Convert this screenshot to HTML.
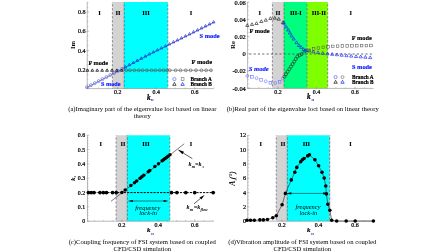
<!DOCTYPE html>
<html><head><meta charset="utf-8"><style>
html,body{margin:0;padding:0;background:#fff;width:448px;height:252px;overflow:hidden}
svg{display:block}
text{font-family:'Liberation Serif', 'Times New Roman', serif}
</style></head><body>
<svg width="448" height="252" viewBox="0 0 448 252">
<rect x="0" y="0" width="448" height="252" fill="#fff"/>
<rect x="112.40" y="2.00" width="11.30" height="86.60" fill="#D3D3D3"/>
<rect x="123.70" y="2.00" width="44.10" height="86.60" fill="#00FFFF"/>
<line x1="112.40" y1="2.00" x2="112.40" y2="88.60" stroke="#666" stroke-width="0.75" stroke-dasharray="2.2,1.8" stroke-dashoffset="1.8"/>
<line x1="123.40" y1="2.00" x2="123.40" y2="88.60" stroke="#F0A8A8" stroke-width="0.8"/>
<line x1="124.40" y1="2.00" x2="124.40" y2="88.60" stroke="#2a8a8a" stroke-width="0.75" stroke-dasharray="2.2,1.8" stroke-dashoffset="1.8"/>
<line x1="167.80" y1="2.00" x2="167.80" y2="88.60" stroke="#666" stroke-width="0.75" stroke-dasharray="2.2,1.8" stroke-dashoffset="1.8"/>
<line x1="87.25" y1="2.00" x2="87.25" y2="88.60" stroke="#8a8a8a" stroke-width="0.6"/>
<line x1="87.25" y1="88.60" x2="213.50" y2="88.60" stroke="#8a8a8a" stroke-width="0.6"/>
<line x1="87.25" y1="84.38" x2="88.35" y2="84.38" stroke="#8a8a8a" stroke-width="0.45"/>
<line x1="87.25" y1="79.55" x2="88.35" y2="79.55" stroke="#8a8a8a" stroke-width="0.45"/>
<line x1="87.25" y1="74.72" x2="88.35" y2="74.72" stroke="#8a8a8a" stroke-width="0.45"/>
<line x1="86.45" y1="69.90" x2="89.05" y2="69.90" stroke="#8a8a8a" stroke-width="0.5"/>
<line x1="87.25" y1="65.08" x2="88.35" y2="65.08" stroke="#8a8a8a" stroke-width="0.45"/>
<line x1="87.25" y1="60.25" x2="88.35" y2="60.25" stroke="#8a8a8a" stroke-width="0.45"/>
<line x1="87.25" y1="55.42" x2="88.35" y2="55.42" stroke="#8a8a8a" stroke-width="0.45"/>
<line x1="86.45" y1="50.60" x2="89.05" y2="50.60" stroke="#8a8a8a" stroke-width="0.5"/>
<line x1="87.25" y1="45.77" x2="88.35" y2="45.77" stroke="#8a8a8a" stroke-width="0.45"/>
<line x1="87.25" y1="40.95" x2="88.35" y2="40.95" stroke="#8a8a8a" stroke-width="0.45"/>
<line x1="87.25" y1="36.12" x2="88.35" y2="36.12" stroke="#8a8a8a" stroke-width="0.45"/>
<line x1="86.45" y1="31.30" x2="89.05" y2="31.30" stroke="#8a8a8a" stroke-width="0.5"/>
<line x1="87.25" y1="26.48" x2="88.35" y2="26.48" stroke="#8a8a8a" stroke-width="0.45"/>
<line x1="87.25" y1="21.65" x2="88.35" y2="21.65" stroke="#8a8a8a" stroke-width="0.45"/>
<line x1="87.25" y1="16.83" x2="88.35" y2="16.83" stroke="#8a8a8a" stroke-width="0.45"/>
<line x1="86.45" y1="12.00" x2="89.05" y2="12.00" stroke="#8a8a8a" stroke-width="0.5"/>
<line x1="87.25" y1="7.17" x2="88.35" y2="7.17" stroke="#8a8a8a" stroke-width="0.45"/>
<line x1="87.25" y1="2.35" x2="88.35" y2="2.35" stroke="#8a8a8a" stroke-width="0.45"/>
<line x1="88.88" y1="88.60" x2="88.88" y2="87.50" stroke="#8a8a8a" stroke-width="0.45"/>
<line x1="98.50" y1="88.60" x2="98.50" y2="87.50" stroke="#8a8a8a" stroke-width="0.45"/>
<line x1="108.12" y1="88.60" x2="108.12" y2="87.50" stroke="#8a8a8a" stroke-width="0.45"/>
<line x1="117.75" y1="89.40" x2="117.75" y2="86.80" stroke="#8a8a8a" stroke-width="0.5"/>
<line x1="127.38" y1="88.60" x2="127.38" y2="87.50" stroke="#8a8a8a" stroke-width="0.45"/>
<line x1="137.00" y1="88.60" x2="137.00" y2="87.50" stroke="#8a8a8a" stroke-width="0.45"/>
<line x1="146.62" y1="88.60" x2="146.62" y2="87.50" stroke="#8a8a8a" stroke-width="0.45"/>
<line x1="156.25" y1="89.40" x2="156.25" y2="86.80" stroke="#8a8a8a" stroke-width="0.5"/>
<line x1="165.88" y1="88.60" x2="165.88" y2="87.50" stroke="#8a8a8a" stroke-width="0.45"/>
<line x1="175.50" y1="88.60" x2="175.50" y2="87.50" stroke="#8a8a8a" stroke-width="0.45"/>
<line x1="185.12" y1="88.60" x2="185.12" y2="87.50" stroke="#8a8a8a" stroke-width="0.45"/>
<line x1="194.75" y1="89.40" x2="194.75" y2="86.80" stroke="#8a8a8a" stroke-width="0.5"/>
<line x1="204.38" y1="88.60" x2="204.38" y2="87.50" stroke="#8a8a8a" stroke-width="0.45"/>
<line x1="214.00" y1="88.60" x2="214.00" y2="87.50" stroke="#8a8a8a" stroke-width="0.45"/>
<text x="85.50" y="71.90" font-size="6.1" text-anchor="end" font-weight="normal" font-style="normal" fill="#000" stroke="#000" stroke-width="0.22">0.2</text>
<text x="85.50" y="52.60" font-size="6.1" text-anchor="end" font-weight="normal" font-style="normal" fill="#000" stroke="#000" stroke-width="0.22">0.4</text>
<text x="85.50" y="33.30" font-size="6.1" text-anchor="end" font-weight="normal" font-style="normal" fill="#000" stroke="#000" stroke-width="0.22">0.6</text>
<text x="85.50" y="14.00" font-size="6.1" text-anchor="end" font-weight="normal" font-style="normal" fill="#000" stroke="#000" stroke-width="0.22">0.8</text>
<text x="117.75" y="94.00" font-size="5.9" text-anchor="middle" font-weight="normal" font-style="normal" fill="#000" stroke="#000" stroke-width="0.22">0.2</text>
<text x="156.25" y="94.00" font-size="5.9" text-anchor="middle" font-weight="normal" font-style="normal" fill="#000" stroke="#000" stroke-width="0.22">0.4</text>
<text x="194.75" y="94.00" font-size="5.9" text-anchor="middle" font-weight="normal" font-style="normal" fill="#000" stroke="#000" stroke-width="0.22">0.6</text>
<text x="99.40" y="14.80" font-size="6.5" text-anchor="middle" font-weight="bold" font-style="normal" fill="#000" stroke="#000" stroke-width="0.15">I</text>
<text x="118.00" y="14.80" font-size="6.5" text-anchor="middle" font-weight="bold" font-style="normal" fill="#000" stroke="#000" stroke-width="0.15">II</text>
<text x="146.00" y="14.80" font-size="6.5" text-anchor="middle" font-weight="bold" font-style="normal" fill="#000" stroke="#000" stroke-width="0.15">III</text>
<text x="191.00" y="14.80" font-size="6.5" text-anchor="middle" font-weight="bold" font-style="normal" fill="#000" stroke="#000" stroke-width="0.15">I</text>
<polyline points="86.3,87.9 123.5,68.4 150,54.2 180,39.3 214.3,22.2" fill="none" stroke="#222" stroke-width="0.55"/>
<circle cx="87.00" cy="87.23" r="1.5" fill="none" stroke="#5A66FF" stroke-width="0.65"/>
<circle cx="90.89" cy="85.19" r="1.5" fill="none" stroke="#5A66FF" stroke-width="0.65"/>
<circle cx="94.78" cy="83.16" r="1.5" fill="none" stroke="#5A66FF" stroke-width="0.65"/>
<circle cx="98.67" cy="81.12" r="1.5" fill="none" stroke="#5A66FF" stroke-width="0.65"/>
<circle cx="102.56" cy="79.08" r="1.5" fill="none" stroke="#5A66FF" stroke-width="0.65"/>
<circle cx="106.44" cy="77.04" r="1.5" fill="none" stroke="#5A66FF" stroke-width="0.65"/>
<circle cx="110.33" cy="75.00" r="1.5" fill="none" stroke="#5A66FF" stroke-width="0.65"/>
<circle cx="114.22" cy="72.96" r="1.5" fill="none" stroke="#5A66FF" stroke-width="0.65"/>
<circle cx="118.11" cy="70.92" r="1.5" fill="none" stroke="#5A66FF" stroke-width="0.65"/>
<circle cx="122.00" cy="68.89" r="1.5" fill="none" stroke="#5A66FF" stroke-width="0.65"/>
<path d="M123.90,67.84 L126.70,67.84 L125.30,65.42 Z" fill="none" stroke="#1020FF" stroke-width="0.65"/>
<path d="M127.91,65.69 L130.71,65.69 L129.31,63.27 Z" fill="none" stroke="#1020FF" stroke-width="0.65"/>
<path d="M131.93,63.54 L134.73,63.54 L133.33,61.12 Z" fill="none" stroke="#1020FF" stroke-width="0.65"/>
<path d="M135.94,61.39 L138.74,61.39 L137.34,58.97 Z" fill="none" stroke="#1020FF" stroke-width="0.65"/>
<path d="M139.95,59.24 L142.75,59.24 L141.35,56.82 Z" fill="none" stroke="#1020FF" stroke-width="0.65"/>
<path d="M143.97,57.09 L146.77,57.09 L145.37,54.67 Z" fill="none" stroke="#1020FF" stroke-width="0.65"/>
<path d="M147.98,54.94 L150.78,54.94 L149.38,52.51 Z" fill="none" stroke="#1020FF" stroke-width="0.65"/>
<path d="M152.00,52.92 L154.80,52.92 L153.40,50.50 Z" fill="none" stroke="#1020FF" stroke-width="0.65"/>
<path d="M156.01,50.93 L158.81,50.93 L157.41,48.50 Z" fill="none" stroke="#1020FF" stroke-width="0.65"/>
<path d="M160.02,48.93 L162.82,48.93 L161.42,46.51 Z" fill="none" stroke="#1020FF" stroke-width="0.65"/>
<path d="M164.04,46.94 L166.84,46.94 L165.44,44.52 Z" fill="none" stroke="#1020FF" stroke-width="0.65"/>
<path d="M168.05,44.95 L170.85,44.95 L169.45,42.52 Z" fill="none" stroke="#1020FF" stroke-width="0.65"/>
<path d="M172.06,42.95 L174.86,42.95 L173.46,40.53 Z" fill="none" stroke="#1020FF" stroke-width="0.65"/>
<path d="M176.08,40.96 L178.88,40.96 L177.48,38.54 Z" fill="none" stroke="#1020FF" stroke-width="0.65"/>
<path d="M180.09,38.96 L182.89,38.96 L181.49,36.54 Z" fill="none" stroke="#1020FF" stroke-width="0.65"/>
<path d="M184.10,36.96 L186.90,36.96 L185.50,34.54 Z" fill="none" stroke="#1020FF" stroke-width="0.65"/>
<path d="M188.12,34.96 L190.92,34.96 L189.52,32.54 Z" fill="none" stroke="#1020FF" stroke-width="0.65"/>
<path d="M192.13,32.96 L194.93,32.96 L193.53,30.54 Z" fill="none" stroke="#1020FF" stroke-width="0.65"/>
<path d="M196.15,30.96 L198.95,30.96 L197.55,28.54 Z" fill="none" stroke="#1020FF" stroke-width="0.65"/>
<path d="M200.16,28.96 L202.96,28.96 L201.56,26.54 Z" fill="none" stroke="#1020FF" stroke-width="0.65"/>
<path d="M204.17,26.96 L206.97,26.96 L205.57,24.53 Z" fill="none" stroke="#1020FF" stroke-width="0.65"/>
<path d="M208.19,24.96 L210.99,24.96 L209.59,22.53 Z" fill="none" stroke="#1020FF" stroke-width="0.65"/>
<path d="M212.20,22.96 L215.00,22.96 L213.60,20.53 Z" fill="none" stroke="#1020FF" stroke-width="0.65"/>
<path d="M86.00,71.31 L88.80,71.31 L87.40,68.88 Z" fill="none" stroke="#111" stroke-width="0.75"/>
<path d="M90.91,71.31 L93.71,71.31 L92.31,68.88 Z" fill="none" stroke="#111" stroke-width="0.75"/>
<path d="M95.82,71.31 L98.62,71.31 L97.22,68.88 Z" fill="none" stroke="#111" stroke-width="0.75"/>
<path d="M100.73,71.31 L103.53,71.31 L102.13,68.88 Z" fill="none" stroke="#111" stroke-width="0.75"/>
<path d="M105.64,71.31 L108.44,71.31 L107.04,68.88 Z" fill="none" stroke="#111" stroke-width="0.75"/>
<path d="M110.55,71.31 L113.35,71.31 L111.95,68.88 Z" fill="none" stroke="#111" stroke-width="0.75"/>
<path d="M115.46,71.31 L118.26,71.31 L116.86,68.88 Z" fill="none" stroke="#111" stroke-width="0.75"/>
<path d="M120.37,71.31 L123.17,71.31 L121.77,68.88 Z" fill="none" stroke="#111" stroke-width="0.75"/>
<line x1="123.60" y1="70.30" x2="212.50" y2="70.30" stroke="#444" stroke-width="0.5"/>
<circle cx="126.40" cy="70.30" r="1.45" fill="none" stroke="#505050" stroke-width="0.6"/>
<circle cx="129.90" cy="70.30" r="1.45" fill="none" stroke="#505050" stroke-width="0.6"/>
<circle cx="134.30" cy="70.30" r="1.45" fill="none" stroke="#505050" stroke-width="0.6"/>
<circle cx="138.70" cy="70.30" r="1.45" fill="none" stroke="#505050" stroke-width="0.6"/>
<circle cx="142.60" cy="70.30" r="1.45" fill="none" stroke="#505050" stroke-width="0.6"/>
<circle cx="147.00" cy="70.30" r="1.45" fill="none" stroke="#505050" stroke-width="0.6"/>
<circle cx="151.50" cy="70.30" r="1.45" fill="none" stroke="#505050" stroke-width="0.6"/>
<circle cx="155.40" cy="70.30" r="1.45" fill="none" stroke="#505050" stroke-width="0.6"/>
<circle cx="159.80" cy="70.30" r="1.45" fill="none" stroke="#505050" stroke-width="0.6"/>
<circle cx="163.70" cy="70.30" r="1.45" fill="none" stroke="#505050" stroke-width="0.6"/>
<circle cx="167.00" cy="70.30" r="1.45" fill="none" stroke="#505050" stroke-width="0.6"/>
<circle cx="169.75" cy="70.30" r="1.45" fill="none" stroke="#505050" stroke-width="0.6"/>
<circle cx="175.60" cy="70.30" r="1.45" fill="none" stroke="#505050" stroke-width="0.6"/>
<circle cx="180.50" cy="70.30" r="1.45" fill="none" stroke="#505050" stroke-width="0.6"/>
<circle cx="185.80" cy="70.30" r="1.45" fill="none" stroke="#505050" stroke-width="0.6"/>
<circle cx="190.70" cy="70.30" r="1.45" fill="none" stroke="#505050" stroke-width="0.6"/>
<circle cx="196.00" cy="70.30" r="1.45" fill="none" stroke="#505050" stroke-width="0.6"/>
<circle cx="201.40" cy="70.30" r="1.45" fill="none" stroke="#505050" stroke-width="0.6"/>
<circle cx="206.20" cy="70.30" r="1.45" fill="none" stroke="#505050" stroke-width="0.6"/>
<circle cx="211.00" cy="70.30" r="1.45" fill="none" stroke="#505050" stroke-width="0.6"/>
<text x="88.40" y="64.60" font-size="6.25" text-anchor="start" font-weight="bold" font-style="normal" fill="#000" stroke="#000" stroke-width="0.15">F mode</text>
<text x="101.00" y="85.60" font-size="6.2" text-anchor="start" font-weight="bold" font-style="normal" fill="#1020FF" stroke="#1020FF" stroke-width="0.15">S mode</text>
<text x="199.60" y="37.70" font-size="6.35" text-anchor="start" font-weight="bold" font-style="normal" fill="#1020FF" stroke="#1020FF" stroke-width="0.15">S mode</text>
<text x="191.60" y="64.40" font-size="6.5" text-anchor="start" font-weight="bold" font-style="normal" fill="#000" stroke="#000" stroke-width="0.15">F mode</text>
<circle cx="174.40" cy="79.10" r="1.6" fill="none" stroke="#5A66FF" stroke-width="0.7"/>
<rect x="181.20" y="77.70" width="2.80" height="2.80" fill="none" stroke="#666" stroke-width="0.6"/>
<path d="M172.70,85.38 L176.10,85.38 L174.40,82.44 Z" fill="none" stroke="#111" stroke-width="0.7"/>
<path d="M180.90,85.38 L184.30,85.38 L182.60,82.44 Z" fill="none" stroke="#1020FF" stroke-width="0.7"/>
<text x="190.40" y="80.60" font-size="5.25" text-anchor="start" font-weight="bold" font-style="normal" fill="#000" stroke="#000" stroke-width="0.2">Branch A</text>
<text x="190.40" y="85.90" font-size="5.25" text-anchor="start" font-weight="bold" font-style="normal" fill="#000" stroke="#000" stroke-width="0.2">Branch B</text>
<text x="148.75" y="99.60" font-size="7.2" text-anchor="middle" font-weight="bold" font-style="italic" fill="#000" stroke="#000" stroke-width="0.2">k</text>
<text x="152.40" y="101.20" font-size="4.6" text-anchor="middle" font-weight="bold" font-style="italic" fill="#1a2a8a" >u</text>
<text transform="translate(74.9,45.0) rotate(-90)" font-size="6.6" font-weight="bold" text-anchor="middle">Im</text>
<rect x="272.40" y="2.00" width="11.20" height="86.40" fill="#D3D3D3"/>
<rect x="283.60" y="2.00" width="23.50" height="86.40" fill="#00FF7F"/>
<rect x="307.10" y="2.00" width="20.60" height="86.40" fill="#7FFF00"/>
<line x1="272.40" y1="2.00" x2="272.40" y2="88.40" stroke="#666" stroke-width="0.75" stroke-dasharray="2.2,1.8" stroke-dashoffset="1.8"/>
<line x1="307.10" y1="2.00" x2="307.10" y2="88.40" stroke="#666" stroke-width="0.75" stroke-dasharray="2.2,1.8" stroke-dashoffset="1.8"/>
<line x1="327.70" y1="2.00" x2="327.70" y2="88.40" stroke="#666" stroke-width="0.75" stroke-dasharray="2.2,1.8" stroke-dashoffset="1.8"/>
<line x1="283.30" y1="2.00" x2="283.30" y2="88.40" stroke="#F0A8A8" stroke-width="0.8"/>
<line x1="284.20" y1="2.00" x2="284.20" y2="88.40" stroke="#2a8a6a" stroke-width="0.75" stroke-dasharray="2.2,1.8" stroke-dashoffset="1.8"/>
<line x1="247.6" y1="54.0" x2="374" y2="54.0" stroke="#555" stroke-width="0.9" stroke-dasharray="2.1,2.2" stroke-dashoffset="2.55"/>
<line x1="247.60" y1="2.00" x2="247.60" y2="88.40" stroke="#8a8a8a" stroke-width="0.6"/>
<line x1="247.60" y1="88.40" x2="373.60" y2="88.40" stroke="#8a8a8a" stroke-width="0.6"/>
<line x1="246.80" y1="88.25" x2="249.40" y2="88.25" stroke="#8a8a8a" stroke-width="0.5"/>
<line x1="247.60" y1="83.95" x2="248.70" y2="83.95" stroke="#8a8a8a" stroke-width="0.45"/>
<line x1="247.60" y1="79.65" x2="248.70" y2="79.65" stroke="#8a8a8a" stroke-width="0.45"/>
<line x1="247.60" y1="75.35" x2="248.70" y2="75.35" stroke="#8a8a8a" stroke-width="0.45"/>
<line x1="246.80" y1="71.05" x2="249.40" y2="71.05" stroke="#8a8a8a" stroke-width="0.5"/>
<line x1="247.60" y1="66.75" x2="248.70" y2="66.75" stroke="#8a8a8a" stroke-width="0.45"/>
<line x1="247.60" y1="62.45" x2="248.70" y2="62.45" stroke="#8a8a8a" stroke-width="0.45"/>
<line x1="247.60" y1="58.15" x2="248.70" y2="58.15" stroke="#8a8a8a" stroke-width="0.45"/>
<line x1="246.80" y1="53.85" x2="249.40" y2="53.85" stroke="#8a8a8a" stroke-width="0.5"/>
<line x1="247.60" y1="49.55" x2="248.70" y2="49.55" stroke="#8a8a8a" stroke-width="0.45"/>
<line x1="247.60" y1="45.25" x2="248.70" y2="45.25" stroke="#8a8a8a" stroke-width="0.45"/>
<line x1="247.60" y1="40.95" x2="248.70" y2="40.95" stroke="#8a8a8a" stroke-width="0.45"/>
<line x1="246.80" y1="36.65" x2="249.40" y2="36.65" stroke="#8a8a8a" stroke-width="0.5"/>
<line x1="247.60" y1="32.35" x2="248.70" y2="32.35" stroke="#8a8a8a" stroke-width="0.45"/>
<line x1="247.60" y1="28.05" x2="248.70" y2="28.05" stroke="#8a8a8a" stroke-width="0.45"/>
<line x1="247.60" y1="23.75" x2="248.70" y2="23.75" stroke="#8a8a8a" stroke-width="0.45"/>
<line x1="246.80" y1="19.45" x2="249.40" y2="19.45" stroke="#8a8a8a" stroke-width="0.5"/>
<line x1="247.60" y1="15.15" x2="248.70" y2="15.15" stroke="#8a8a8a" stroke-width="0.45"/>
<line x1="247.60" y1="10.85" x2="248.70" y2="10.85" stroke="#8a8a8a" stroke-width="0.45"/>
<line x1="247.60" y1="6.55" x2="248.70" y2="6.55" stroke="#8a8a8a" stroke-width="0.45"/>
<line x1="246.80" y1="2.25" x2="249.40" y2="2.25" stroke="#8a8a8a" stroke-width="0.5"/>
<line x1="249.12" y1="88.40" x2="249.12" y2="87.30" stroke="#8a8a8a" stroke-width="0.45"/>
<line x1="258.75" y1="88.40" x2="258.75" y2="87.30" stroke="#8a8a8a" stroke-width="0.45"/>
<line x1="268.38" y1="88.40" x2="268.38" y2="87.30" stroke="#8a8a8a" stroke-width="0.45"/>
<line x1="278.00" y1="89.20" x2="278.00" y2="86.60" stroke="#8a8a8a" stroke-width="0.5"/>
<line x1="287.62" y1="88.40" x2="287.62" y2="87.30" stroke="#8a8a8a" stroke-width="0.45"/>
<line x1="297.25" y1="88.40" x2="297.25" y2="87.30" stroke="#8a8a8a" stroke-width="0.45"/>
<line x1="306.88" y1="88.40" x2="306.88" y2="87.30" stroke="#8a8a8a" stroke-width="0.45"/>
<line x1="316.50" y1="89.20" x2="316.50" y2="86.60" stroke="#8a8a8a" stroke-width="0.5"/>
<line x1="326.12" y1="88.40" x2="326.12" y2="87.30" stroke="#8a8a8a" stroke-width="0.45"/>
<line x1="335.75" y1="88.40" x2="335.75" y2="87.30" stroke="#8a8a8a" stroke-width="0.45"/>
<line x1="345.38" y1="88.40" x2="345.38" y2="87.30" stroke="#8a8a8a" stroke-width="0.45"/>
<line x1="355.00" y1="89.20" x2="355.00" y2="86.60" stroke="#8a8a8a" stroke-width="0.5"/>
<line x1="364.62" y1="88.40" x2="364.62" y2="87.30" stroke="#8a8a8a" stroke-width="0.45"/>
<text x="245.80" y="90.50" font-size="6.4" text-anchor="end" font-weight="normal" font-style="normal" fill="#000" stroke="#000" stroke-width="0.22">-0.04</text>
<text x="245.80" y="73.30" font-size="6.4" text-anchor="end" font-weight="normal" font-style="normal" fill="#000" stroke="#000" stroke-width="0.22">-0.02</text>
<text x="245.80" y="56.10" font-size="6.4" text-anchor="end" font-weight="normal" font-style="normal" fill="#000" stroke="#000" stroke-width="0.22">0</text>
<text x="245.80" y="38.90" font-size="6.4" text-anchor="end" font-weight="normal" font-style="normal" fill="#000" stroke="#000" stroke-width="0.22">0.02</text>
<text x="245.80" y="21.70" font-size="6.4" text-anchor="end" font-weight="normal" font-style="normal" fill="#000" stroke="#000" stroke-width="0.22">0.04</text>
<text x="245.80" y="4.50" font-size="6.4" text-anchor="end" font-weight="normal" font-style="normal" fill="#000" stroke="#000" stroke-width="0.22">0.06</text>
<text x="278.00" y="94.00" font-size="5.9" text-anchor="middle" font-weight="normal" font-style="normal" fill="#000" stroke="#000" stroke-width="0.22">0.2</text>
<text x="316.50" y="94.00" font-size="5.9" text-anchor="middle" font-weight="normal" font-style="normal" fill="#000" stroke="#000" stroke-width="0.22">0.4</text>
<text x="355.00" y="94.00" font-size="5.9" text-anchor="middle" font-weight="normal" font-style="normal" fill="#000" stroke="#000" stroke-width="0.22">0.6</text>
<text x="259.80" y="14.80" font-size="6.25" text-anchor="middle" font-weight="bold" font-style="normal" fill="#000" stroke="#000" stroke-width="0.15">I</text>
<text x="277.90" y="14.80" font-size="6.25" text-anchor="middle" font-weight="bold" font-style="normal" fill="#000" stroke="#000" stroke-width="0.15">II</text>
<text x="295.80" y="14.80" font-size="6.25" text-anchor="middle" font-weight="bold" font-style="normal" fill="#000" stroke="#000" stroke-width="0.15">III-I</text>
<text x="318.90" y="14.80" font-size="6.25" text-anchor="middle" font-weight="bold" font-style="normal" fill="#000" stroke="#000" stroke-width="0.15">III-II</text>
<text x="350.60" y="14.80" font-size="6.25" text-anchor="middle" font-weight="bold" font-style="normal" fill="#000" stroke="#000" stroke-width="0.15">I</text>
<path d="M245.70,26.52 L248.90,26.52 L247.30,23.75 Z" fill="none" stroke="#111" stroke-width="0.6"/>
<path d="M250.40,25.52 L253.60,25.52 L252.00,22.75 Z" fill="none" stroke="#111" stroke-width="0.6"/>
<path d="M254.90,24.52 L258.10,24.52 L256.50,21.75 Z" fill="none" stroke="#111" stroke-width="0.6"/>
<path d="M259.70,22.52 L262.90,22.52 L261.30,19.75 Z" fill="none" stroke="#111" stroke-width="0.6"/>
<path d="M264.20,21.22 L267.40,21.22 L265.80,18.45 Z" fill="none" stroke="#111" stroke-width="0.6"/>
<path d="M268.80,19.52 L272.00,19.52 L270.40,16.75 Z" fill="none" stroke="#111" stroke-width="0.6"/>
<path d="M273.20,19.22 L276.40,19.22 L274.80,16.45 Z" fill="none" stroke="#111" stroke-width="0.6"/>
<path d="M277.10,20.22 L280.30,20.22 L278.70,17.45 Z" fill="none" stroke="#111" stroke-width="0.6"/>
<path d="M281.40,23.52 L284.60,23.52 L283.00,20.75 Z" fill="none" stroke="#111" stroke-width="0.6"/>
<path d="M282.20,24.22 L285.40,24.22 L283.80,21.45 Z" fill="none" stroke="#1020FF" stroke-width="0.65"/>
<path d="M284.40,27.92 L287.60,27.92 L286.00,25.15 Z" fill="none" stroke="#1020FF" stroke-width="0.65"/>
<path d="M286.60,31.02 L289.80,31.02 L288.20,28.25 Z" fill="none" stroke="#1020FF" stroke-width="0.65"/>
<path d="M288.30,34.02 L291.50,34.02 L289.90,31.25 Z" fill="none" stroke="#1020FF" stroke-width="0.65"/>
<path d="M289.90,37.02 L293.10,37.02 L291.50,34.25 Z" fill="none" stroke="#1020FF" stroke-width="0.65"/>
<path d="M292.10,40.02 L295.30,40.02 L293.70,37.25 Z" fill="none" stroke="#1020FF" stroke-width="0.65"/>
<path d="M294.90,43.62 L298.10,43.62 L296.50,40.85 Z" fill="none" stroke="#1020FF" stroke-width="0.65"/>
<path d="M297.30,46.52 L300.50,46.52 L298.90,43.75 Z" fill="none" stroke="#1020FF" stroke-width="0.65"/>
<path d="M299.60,48.42 L302.80,48.42 L301.20,45.65 Z" fill="none" stroke="#1020FF" stroke-width="0.65"/>
<path d="M301.90,50.42 L305.10,50.42 L303.50,47.65 Z" fill="none" stroke="#1020FF" stroke-width="0.65"/>
<path d="M304.20,51.42 L307.40,51.42 L305.80,48.65 Z" fill="none" stroke="#1020FF" stroke-width="0.65"/>
<path d="M307.60,51.92 L310.80,51.92 L309.20,49.15 Z" fill="none" stroke="#1020FF" stroke-width="0.65"/>
<path d="M311.70,52.82 L314.90,52.82 L313.30,50.05 Z" fill="none" stroke="#1020FF" stroke-width="0.65"/>
<path d="M316.40,53.62 L319.60,53.62 L318.00,50.85 Z" fill="none" stroke="#1020FF" stroke-width="0.65"/>
<path d="M321.10,54.32 L324.30,54.32 L322.70,51.55 Z" fill="none" stroke="#1020FF" stroke-width="0.65"/>
<path d="M325.90,54.82 L329.10,54.82 L327.50,52.05 Z" fill="none" stroke="#1020FF" stroke-width="0.65"/>
<path d="M330.60,55.32 L333.80,55.32 L332.20,52.55 Z" fill="none" stroke="#1020FF" stroke-width="0.65"/>
<path d="M335.40,55.72 L338.60,55.72 L337.00,52.95 Z" fill="none" stroke="#1020FF" stroke-width="0.65"/>
<path d="M340.10,56.22 L343.30,56.22 L341.70,53.45 Z" fill="none" stroke="#1020FF" stroke-width="0.65"/>
<path d="M344.90,56.72 L348.10,56.72 L346.50,53.95 Z" fill="none" stroke="#1020FF" stroke-width="0.65"/>
<path d="M349.60,57.12 L352.80,57.12 L351.20,54.35 Z" fill="none" stroke="#1020FF" stroke-width="0.65"/>
<path d="M354.40,57.52 L357.60,57.52 L356.00,54.75 Z" fill="none" stroke="#1020FF" stroke-width="0.65"/>
<path d="M359.10,57.82 L362.30,57.82 L360.70,55.05 Z" fill="none" stroke="#1020FF" stroke-width="0.65"/>
<path d="M363.80,58.22 L367.00,58.22 L365.40,55.45 Z" fill="none" stroke="#1020FF" stroke-width="0.65"/>
<path d="M368.60,58.62 L371.80,58.62 L370.20,55.85 Z" fill="none" stroke="#1020FF" stroke-width="0.65"/>
<circle cx="247.40" cy="75.90" r="1.45" fill="none" stroke="#5A66FF" stroke-width="0.55"/>
<rect x="250.55" y="75.45" width="2.70" height="2.70" fill="none" stroke="#5A66FF" stroke-width="0.55"/>
<circle cx="256.60" cy="78.20" r="1.45" fill="none" stroke="#5A66FF" stroke-width="0.55"/>
<rect x="259.75" y="78.45" width="2.70" height="2.70" fill="none" stroke="#5A66FF" stroke-width="0.55"/>
<circle cx="265.80" cy="81.25" r="1.45" fill="none" stroke="#5A66FF" stroke-width="0.55"/>
<rect x="269.05" y="81.35" width="2.70" height="2.70" fill="none" stroke="#5A66FF" stroke-width="0.55"/>
<circle cx="275.20" cy="83.00" r="1.45" fill="none" stroke="#5A66FF" stroke-width="0.55"/>
<rect x="278.25" y="80.45" width="2.70" height="2.70" fill="none" stroke="#5A66FF" stroke-width="0.55"/>
<circle cx="282.80" cy="78.60" r="1.45" fill="none" stroke="#5A66FF" stroke-width="0.55"/>
<circle cx="284.40" cy="76.70" r="1.55" fill="none" stroke="#222" stroke-width="0.6"/>
<circle cx="286.00" cy="74.20" r="1.55" fill="none" stroke="#222" stroke-width="0.6"/>
<circle cx="287.60" cy="71.70" r="1.55" fill="none" stroke="#222" stroke-width="0.6"/>
<circle cx="289.30" cy="69.20" r="1.55" fill="none" stroke="#222" stroke-width="0.6"/>
<circle cx="291.00" cy="66.60" r="1.55" fill="none" stroke="#222" stroke-width="0.6"/>
<circle cx="292.60" cy="64.10" r="1.55" fill="none" stroke="#222" stroke-width="0.6"/>
<circle cx="294.20" cy="61.60" r="1.55" fill="none" stroke="#222" stroke-width="0.6"/>
<circle cx="295.80" cy="59.00" r="1.55" fill="none" stroke="#222" stroke-width="0.6"/>
<circle cx="297.40" cy="56.50" r="1.55" fill="none" stroke="#222" stroke-width="0.6"/>
<circle cx="299.50" cy="55.30" r="1.55" fill="none" stroke="#222" stroke-width="0.6"/>
<circle cx="301.70" cy="54.00" r="1.55" fill="none" stroke="#222" stroke-width="0.6"/>
<circle cx="304.80" cy="51.40" r="1.55" fill="none" stroke="#222" stroke-width="0.6"/>
<rect x="307.70" y="49.00" width="2.60" height="2.60" fill="none" stroke="#555" stroke-width="0.55"/>
<rect x="312.30" y="47.70" width="2.60" height="2.60" fill="none" stroke="#555" stroke-width="0.55"/>
<rect x="317.10" y="46.80" width="2.60" height="2.60" fill="none" stroke="#555" stroke-width="0.55"/>
<rect x="322.00" y="46.00" width="2.60" height="2.60" fill="none" stroke="#555" stroke-width="0.55"/>
<rect x="326.70" y="45.50" width="2.60" height="2.60" fill="none" stroke="#555" stroke-width="0.55"/>
<rect x="331.50" y="45.10" width="2.60" height="2.60" fill="none" stroke="#555" stroke-width="0.55"/>
<rect x="336.30" y="44.90" width="2.60" height="2.60" fill="none" stroke="#555" stroke-width="0.55"/>
<rect x="341.10" y="44.70" width="2.60" height="2.60" fill="none" stroke="#555" stroke-width="0.55"/>
<rect x="345.90" y="44.60" width="2.60" height="2.60" fill="none" stroke="#555" stroke-width="0.55"/>
<rect x="350.70" y="44.50" width="2.60" height="2.60" fill="none" stroke="#555" stroke-width="0.55"/>
<rect x="355.50" y="44.40" width="2.60" height="2.60" fill="none" stroke="#555" stroke-width="0.55"/>
<rect x="360.30" y="44.30" width="2.60" height="2.60" fill="none" stroke="#555" stroke-width="0.55"/>
<rect x="365.10" y="44.30" width="2.60" height="2.60" fill="none" stroke="#555" stroke-width="0.55"/>
<rect x="369.70" y="44.20" width="2.60" height="2.60" fill="none" stroke="#555" stroke-width="0.55"/>
<text x="249.50" y="33.10" font-size="6.35" text-anchor="start" font-weight="bold" font-style="normal" fill="#000" stroke="#000" stroke-width="0.15">F mode</text>
<text x="351.80" y="39.60" font-size="6.3" text-anchor="start" font-weight="bold" font-style="normal" fill="#000" stroke="#000" stroke-width="0.15">F mode</text>
<text x="248.80" y="70.70" font-size="6.6" text-anchor="start" font-weight="bold" font-style="italic" fill="#1020FF" stroke="#1020FF" stroke-width="0.15">S mode</text>
<text x="352.00" y="69.00" font-size="6.35" text-anchor="start" font-weight="bold" font-style="normal" fill="#1020FF" stroke="#1020FF" stroke-width="0.15">S mode</text>
<circle cx="335.60" cy="77.10" r="1.6" fill="none" stroke="#5A66FF" stroke-width="0.7"/>
<circle cx="342.50" cy="77.10" r="1.5" fill="none" stroke="#666" stroke-width="0.6"/>
<path d="M333.90,83.28 L337.30,83.28 L335.60,80.34 Z" fill="none" stroke="#111" stroke-width="0.7"/>
<path d="M340.80,83.28 L344.20,83.28 L342.50,80.34 Z" fill="none" stroke="#1020FF" stroke-width="0.7"/>
<text x="352.00" y="78.80" font-size="5.25" text-anchor="start" font-weight="bold" font-style="normal" fill="#000" stroke="#000" stroke-width="0.2">Branch A</text>
<text x="352.00" y="83.60" font-size="5.25" text-anchor="start" font-weight="bold" font-style="normal" fill="#000" stroke="#000" stroke-width="0.2">Branch B</text>
<text x="308.75" y="99.40" font-size="7.2" text-anchor="middle" font-weight="bold" font-style="italic" fill="#000" stroke="#000" stroke-width="0.2">k</text>
<text x="312.80" y="101.20" font-size="4.6" text-anchor="middle" font-weight="bold" font-style="italic" fill="#1a2a8a" >u</text>
<text transform="translate(235.2,45.0) rotate(-90)" font-size="6.9" font-weight="bold" text-anchor="middle">Re</text>
<rect x="116.10" y="135.30" width="10.60" height="85.90" fill="#D3D3D3"/>
<rect x="126.70" y="135.30" width="43.10" height="85.90" fill="#00FFFF"/>
<line x1="116.10" y1="135.30" x2="116.10" y2="221.20" stroke="#666" stroke-width="0.75" stroke-dasharray="2.2,1.8" stroke-dashoffset="1.8"/>
<line x1="126.40" y1="135.30" x2="126.40" y2="221.20" stroke="#F0A8A8" stroke-width="0.8"/>
<line x1="127.50" y1="135.30" x2="127.50" y2="221.20" stroke="#2a8a8a" stroke-width="0.75" stroke-dasharray="2.2,1.8" stroke-dashoffset="1.8"/>
<line x1="169.80" y1="135.30" x2="169.80" y2="221.20" stroke="#666" stroke-width="0.75" stroke-dasharray="2.2,1.8" stroke-dashoffset="1.8"/>
<line x1="87.50" y1="135.30" x2="87.50" y2="221.20" stroke="#8a8a8a" stroke-width="0.6"/>
<line x1="87.50" y1="221.20" x2="213.60" y2="221.20" stroke="#8a8a8a" stroke-width="0.6"/>
<line x1="86.70" y1="221.20" x2="89.30" y2="221.20" stroke="#8a8a8a" stroke-width="0.5"/>
<line x1="87.50" y1="218.33" x2="88.60" y2="218.33" stroke="#8a8a8a" stroke-width="0.45"/>
<line x1="87.50" y1="215.47" x2="88.60" y2="215.47" stroke="#8a8a8a" stroke-width="0.45"/>
<line x1="87.50" y1="212.60" x2="88.60" y2="212.60" stroke="#8a8a8a" stroke-width="0.45"/>
<line x1="87.50" y1="209.74" x2="88.60" y2="209.74" stroke="#8a8a8a" stroke-width="0.45"/>
<line x1="86.70" y1="206.87" x2="89.30" y2="206.87" stroke="#8a8a8a" stroke-width="0.5"/>
<line x1="87.50" y1="204.00" x2="88.60" y2="204.00" stroke="#8a8a8a" stroke-width="0.45"/>
<line x1="87.50" y1="201.14" x2="88.60" y2="201.14" stroke="#8a8a8a" stroke-width="0.45"/>
<line x1="87.50" y1="198.27" x2="88.60" y2="198.27" stroke="#8a8a8a" stroke-width="0.45"/>
<line x1="87.50" y1="195.41" x2="88.60" y2="195.41" stroke="#8a8a8a" stroke-width="0.45"/>
<line x1="86.70" y1="192.54" x2="89.30" y2="192.54" stroke="#8a8a8a" stroke-width="0.5"/>
<line x1="87.50" y1="189.67" x2="88.60" y2="189.67" stroke="#8a8a8a" stroke-width="0.45"/>
<line x1="87.50" y1="186.81" x2="88.60" y2="186.81" stroke="#8a8a8a" stroke-width="0.45"/>
<line x1="87.50" y1="183.94" x2="88.60" y2="183.94" stroke="#8a8a8a" stroke-width="0.45"/>
<line x1="87.50" y1="181.08" x2="88.60" y2="181.08" stroke="#8a8a8a" stroke-width="0.45"/>
<line x1="86.70" y1="178.21" x2="89.30" y2="178.21" stroke="#8a8a8a" stroke-width="0.5"/>
<line x1="87.50" y1="175.34" x2="88.60" y2="175.34" stroke="#8a8a8a" stroke-width="0.45"/>
<line x1="87.50" y1="172.48" x2="88.60" y2="172.48" stroke="#8a8a8a" stroke-width="0.45"/>
<line x1="87.50" y1="169.61" x2="88.60" y2="169.61" stroke="#8a8a8a" stroke-width="0.45"/>
<line x1="87.50" y1="166.75" x2="88.60" y2="166.75" stroke="#8a8a8a" stroke-width="0.45"/>
<line x1="86.70" y1="163.88" x2="89.30" y2="163.88" stroke="#8a8a8a" stroke-width="0.5"/>
<line x1="87.50" y1="161.01" x2="88.60" y2="161.01" stroke="#8a8a8a" stroke-width="0.45"/>
<line x1="87.50" y1="158.15" x2="88.60" y2="158.15" stroke="#8a8a8a" stroke-width="0.45"/>
<line x1="87.50" y1="155.28" x2="88.60" y2="155.28" stroke="#8a8a8a" stroke-width="0.45"/>
<line x1="87.50" y1="152.42" x2="88.60" y2="152.42" stroke="#8a8a8a" stroke-width="0.45"/>
<line x1="86.70" y1="149.55" x2="89.30" y2="149.55" stroke="#8a8a8a" stroke-width="0.5"/>
<line x1="87.50" y1="146.68" x2="88.60" y2="146.68" stroke="#8a8a8a" stroke-width="0.45"/>
<line x1="87.50" y1="143.82" x2="88.60" y2="143.82" stroke="#8a8a8a" stroke-width="0.45"/>
<line x1="87.50" y1="140.95" x2="88.60" y2="140.95" stroke="#8a8a8a" stroke-width="0.45"/>
<line x1="87.50" y1="138.09" x2="88.60" y2="138.09" stroke="#8a8a8a" stroke-width="0.45"/>
<line x1="86.70" y1="135.22" x2="89.30" y2="135.22" stroke="#8a8a8a" stroke-width="0.5"/>
<line x1="94.60" y1="221.20" x2="94.60" y2="220.10" stroke="#8a8a8a" stroke-width="0.45"/>
<line x1="103.70" y1="221.20" x2="103.70" y2="220.10" stroke="#8a8a8a" stroke-width="0.45"/>
<line x1="112.80" y1="221.20" x2="112.80" y2="220.10" stroke="#8a8a8a" stroke-width="0.45"/>
<line x1="121.90" y1="222.00" x2="121.90" y2="219.40" stroke="#8a8a8a" stroke-width="0.5"/>
<line x1="131.00" y1="221.20" x2="131.00" y2="220.10" stroke="#8a8a8a" stroke-width="0.45"/>
<line x1="140.10" y1="221.20" x2="140.10" y2="220.10" stroke="#8a8a8a" stroke-width="0.45"/>
<line x1="149.20" y1="221.20" x2="149.20" y2="220.10" stroke="#8a8a8a" stroke-width="0.45"/>
<line x1="158.30" y1="222.00" x2="158.30" y2="219.40" stroke="#8a8a8a" stroke-width="0.5"/>
<line x1="167.40" y1="221.20" x2="167.40" y2="220.10" stroke="#8a8a8a" stroke-width="0.45"/>
<line x1="176.50" y1="221.20" x2="176.50" y2="220.10" stroke="#8a8a8a" stroke-width="0.45"/>
<line x1="185.60" y1="221.20" x2="185.60" y2="220.10" stroke="#8a8a8a" stroke-width="0.45"/>
<line x1="194.70" y1="222.00" x2="194.70" y2="219.40" stroke="#8a8a8a" stroke-width="0.5"/>
<line x1="203.80" y1="221.20" x2="203.80" y2="220.10" stroke="#8a8a8a" stroke-width="0.45"/>
<line x1="212.90" y1="221.20" x2="212.90" y2="220.10" stroke="#8a8a8a" stroke-width="0.45"/>
<text x="85.20" y="223.20" font-size="5.9" text-anchor="end" font-weight="normal" font-style="normal" fill="#000" stroke="#000" stroke-width="0.22">0</text>
<text x="85.20" y="208.87" font-size="5.9" text-anchor="end" font-weight="normal" font-style="normal" fill="#000" stroke="#000" stroke-width="0.22">0.1</text>
<text x="85.20" y="194.54" font-size="5.9" text-anchor="end" font-weight="normal" font-style="normal" fill="#000" stroke="#000" stroke-width="0.22">0.2</text>
<text x="85.20" y="180.21" font-size="5.9" text-anchor="end" font-weight="normal" font-style="normal" fill="#000" stroke="#000" stroke-width="0.22">0.3</text>
<text x="85.20" y="165.88" font-size="5.9" text-anchor="end" font-weight="normal" font-style="normal" fill="#000" stroke="#000" stroke-width="0.22">0.4</text>
<text x="85.20" y="151.55" font-size="5.9" text-anchor="end" font-weight="normal" font-style="normal" fill="#000" stroke="#000" stroke-width="0.22">0.5</text>
<text x="85.20" y="137.22" font-size="5.9" text-anchor="end" font-weight="normal" font-style="normal" fill="#000" stroke="#000" stroke-width="0.22">0.6</text>
<text x="121.90" y="226.70" font-size="5.9" text-anchor="middle" font-weight="normal" font-style="normal" fill="#000" stroke="#000" stroke-width="0.22">0.2</text>
<text x="158.30" y="226.70" font-size="5.9" text-anchor="middle" font-weight="normal" font-style="normal" fill="#000" stroke="#000" stroke-width="0.22">0.4</text>
<text x="194.70" y="226.70" font-size="5.9" text-anchor="middle" font-weight="normal" font-style="normal" fill="#000" stroke="#000" stroke-width="0.22">0.6</text>
<text transform="translate(100.80,145.50) scale(1,0.85)" font-size="6.3" text-anchor="middle" font-weight="bold" font-style="normal" fill="#000" stroke="#000" stroke-width="0.15">I</text>
<text transform="translate(122.90,145.50) scale(1,0.85)" font-size="6.3" text-anchor="middle" font-weight="bold" font-style="normal" fill="#000" stroke="#000" stroke-width="0.15">II</text>
<text transform="translate(146.00,145.50) scale(1,0.85)" font-size="6.3" text-anchor="middle" font-weight="bold" font-style="normal" fill="#000" stroke="#000" stroke-width="0.15">III</text>
<text transform="translate(190.90,145.50) scale(1,0.85)" font-size="6.3" text-anchor="middle" font-weight="bold" font-style="normal" fill="#000" stroke="#000" stroke-width="0.15">I</text>
<line x1="111.00" y1="201.30" x2="184.20" y2="143.80" stroke="#111" stroke-width="0.55"/>
<line x1="87.50" y1="192.60" x2="213.50" y2="192.60" stroke="#000" stroke-width="1.0" stroke-dasharray="2.2,1.1"/>
<circle cx="88.40" cy="192.60" r="1.85" fill="#000" stroke="none" stroke-width="0"/>
<circle cx="91.25" cy="192.60" r="1.85" fill="#000" stroke="none" stroke-width="0"/>
<circle cx="94.00" cy="192.60" r="1.85" fill="#000" stroke="none" stroke-width="0"/>
<circle cx="100.00" cy="192.60" r="1.85" fill="#000" stroke="none" stroke-width="0"/>
<circle cx="103.40" cy="192.60" r="1.85" fill="#000" stroke="none" stroke-width="0"/>
<circle cx="106.50" cy="192.60" r="1.85" fill="#000" stroke="none" stroke-width="0"/>
<circle cx="112.50" cy="192.60" r="1.85" fill="#000" stroke="none" stroke-width="0"/>
<circle cx="116.25" cy="192.60" r="1.85" fill="#000" stroke="none" stroke-width="0"/>
<circle cx="121.90" cy="192.54" r="1.75" fill="#000" stroke="none" stroke-width="0"/>
<circle cx="125.18" cy="189.96" r="1.75" fill="#000" stroke="none" stroke-width="0"/>
<circle cx="130.82" cy="185.52" r="1.75" fill="#000" stroke="none" stroke-width="0"/>
<circle cx="134.46" cy="182.65" r="1.75" fill="#000" stroke="none" stroke-width="0"/>
<circle cx="136.64" cy="180.93" r="1.75" fill="#000" stroke="none" stroke-width="0"/>
<circle cx="140.10" cy="178.21" r="1.75" fill="#000" stroke="none" stroke-width="0"/>
<circle cx="141.92" cy="176.78" r="1.75" fill="#000" stroke="none" stroke-width="0"/>
<circle cx="143.74" cy="175.34" r="1.75" fill="#000" stroke="none" stroke-width="0"/>
<circle cx="148.29" cy="171.76" r="1.75" fill="#000" stroke="none" stroke-width="0"/>
<circle cx="149.75" cy="170.62" r="1.75" fill="#000" stroke="none" stroke-width="0"/>
<circle cx="154.84" cy="166.60" r="1.75" fill="#000" stroke="none" stroke-width="0"/>
<circle cx="158.48" cy="163.74" r="1.75" fill="#000" stroke="none" stroke-width="0"/>
<circle cx="162.12" cy="160.87" r="1.75" fill="#000" stroke="none" stroke-width="0"/>
<circle cx="163.58" cy="159.72" r="1.75" fill="#000" stroke="none" stroke-width="0"/>
<circle cx="165.03" cy="158.58" r="1.75" fill="#000" stroke="none" stroke-width="0"/>
<circle cx="166.49" cy="157.43" r="1.75" fill="#000" stroke="none" stroke-width="0"/>
<circle cx="167.95" cy="156.29" r="1.75" fill="#000" stroke="none" stroke-width="0"/>
<circle cx="169.95" cy="154.71" r="1.75" fill="#000" stroke="none" stroke-width="0"/>
<circle cx="171.50" cy="192.60" r="1.85" fill="#000" stroke="none" stroke-width="0"/>
<circle cx="176.90" cy="192.60" r="1.85" fill="#000" stroke="none" stroke-width="0"/>
<circle cx="185.80" cy="192.60" r="1.85" fill="#000" stroke="none" stroke-width="0"/>
<circle cx="194.70" cy="192.60" r="1.85" fill="#000" stroke="none" stroke-width="0"/>
<circle cx="213.20" cy="192.60" r="1.85" fill="#000" stroke="none" stroke-width="0"/>
<line x1="129.80" y1="201.00" x2="166.60" y2="201.00" stroke="#0a5a5a" stroke-width="0.75"/>
<path d="M127.80,201.00 l5.0,-1.1 l0,2.2 Z" fill="#000"/>
<path d="M168.60,201.00 l-5.0,-1.1 l0,2.2 Z" fill="#000"/>
<text transform="translate(147.80,209.60) scale(1,1.05)" font-size="6.4" text-anchor="middle" font-weight="normal" font-style="italic" fill="#000" >frequency</text>
<text transform="translate(148.20,215.00) scale(1,1.05)" font-size="6.4" text-anchor="middle" font-weight="normal" font-style="italic" fill="#000" >lock-in</text>
<line x1="192.30" y1="158.60" x2="183.23" y2="153.01" stroke="#000" stroke-width="0.65"/>
<path d="M177.70,149.60 L184.02,151.73 L182.45,154.29 Z" fill="#000"/>
<line x1="194.10" y1="203.80" x2="200.40" y2="198.46" stroke="#000" stroke-width="0.65"/>
<path d="M204.60,194.90 L201.31,199.52 L199.50,197.39 Z" fill="#000"/>
<text x="188.50" y="165.60" font-size="6.2" text-anchor="start" font-weight="bold" font-style="italic" fill="#000" >k</text>
<text x="191.70" y="168.00" font-size="4.2" text-anchor="start" font-weight="bold" font-style="italic" fill="#000" >m</text>
<text x="195.00" y="165.60" font-size="6.2" text-anchor="start" font-weight="bold" font-style="italic" fill="#000" >=k</text>
<text x="202.60" y="168.00" font-size="4.2" text-anchor="start" font-weight="bold" font-style="italic" fill="#335" >s</text>
<text x="186.50" y="208.50" font-size="6.2" text-anchor="start" font-weight="bold" font-style="italic" fill="#000" >k</text>
<text x="189.70" y="210.70" font-size="4.2" text-anchor="start" font-weight="bold" font-style="italic" fill="#000" >m</text>
<text x="193.70" y="208.50" font-size="6.2" text-anchor="start" font-weight="bold" font-style="italic" fill="#000" >=k</text>
<text x="200.40" y="210.70" font-size="4.2" text-anchor="start" font-weight="bold" font-style="italic" fill="#000" >flow</text>
<text x="148.75" y="232.30" font-size="6.9" text-anchor="middle" font-weight="bold" font-style="italic" fill="#000" stroke="#000" stroke-width="0.2">k</text>
<text x="152.60" y="234.50" font-size="4.6" text-anchor="middle" font-weight="bold" font-style="italic" fill="#1a2a8a" >u</text>
<text transform="translate(74.6,178.2) rotate(-90)" font-size="6.6" font-weight="bold" font-style="italic" text-anchor="middle">k<tspan font-size="4.4" dy="1.8" fill="#335">s</tspan></text>
<rect x="276.30" y="135.30" width="10.40" height="85.90" fill="#D3D3D3"/>
<rect x="286.70" y="135.30" width="42.90" height="85.90" fill="#00FFFF"/>
<line x1="276.30" y1="135.30" x2="276.30" y2="221.20" stroke="#666" stroke-width="0.75" stroke-dasharray="2.2,1.8" stroke-dashoffset="1.8"/>
<line x1="286.40" y1="135.30" x2="286.40" y2="221.20" stroke="#F0A8A8" stroke-width="0.8"/>
<line x1="287.50" y1="135.30" x2="287.50" y2="221.20" stroke="#2a8a8a" stroke-width="0.75" stroke-dasharray="2.2,1.8" stroke-dashoffset="1.8"/>
<line x1="329.90" y1="135.30" x2="329.90" y2="221.20" stroke="#F0A8A8" stroke-width="0.6"/>
<line x1="329.60" y1="135.30" x2="329.60" y2="221.20" stroke="#666" stroke-width="0.75" stroke-dasharray="2.2,1.8" stroke-dashoffset="1.8"/>
<line x1="247.75" y1="135.30" x2="247.75" y2="221.20" stroke="#8a8a8a" stroke-width="0.6"/>
<line x1="247.75" y1="221.20" x2="373.80" y2="221.20" stroke="#8a8a8a" stroke-width="0.6"/>
<line x1="246.95" y1="221.20" x2="249.55" y2="221.20" stroke="#8a8a8a" stroke-width="0.5"/>
<line x1="247.75" y1="217.62" x2="248.85" y2="217.62" stroke="#8a8a8a" stroke-width="0.45"/>
<line x1="247.75" y1="214.05" x2="248.85" y2="214.05" stroke="#8a8a8a" stroke-width="0.45"/>
<line x1="247.75" y1="210.47" x2="248.85" y2="210.47" stroke="#8a8a8a" stroke-width="0.45"/>
<line x1="246.95" y1="206.90" x2="249.55" y2="206.90" stroke="#8a8a8a" stroke-width="0.5"/>
<line x1="247.75" y1="203.32" x2="248.85" y2="203.32" stroke="#8a8a8a" stroke-width="0.45"/>
<line x1="247.75" y1="199.75" x2="248.85" y2="199.75" stroke="#8a8a8a" stroke-width="0.45"/>
<line x1="247.75" y1="196.17" x2="248.85" y2="196.17" stroke="#8a8a8a" stroke-width="0.45"/>
<line x1="246.95" y1="192.60" x2="249.55" y2="192.60" stroke="#8a8a8a" stroke-width="0.5"/>
<line x1="247.75" y1="189.02" x2="248.85" y2="189.02" stroke="#8a8a8a" stroke-width="0.45"/>
<line x1="247.75" y1="185.45" x2="248.85" y2="185.45" stroke="#8a8a8a" stroke-width="0.45"/>
<line x1="247.75" y1="181.88" x2="248.85" y2="181.88" stroke="#8a8a8a" stroke-width="0.45"/>
<line x1="246.95" y1="178.30" x2="249.55" y2="178.30" stroke="#8a8a8a" stroke-width="0.5"/>
<line x1="247.75" y1="174.72" x2="248.85" y2="174.72" stroke="#8a8a8a" stroke-width="0.45"/>
<line x1="247.75" y1="171.15" x2="248.85" y2="171.15" stroke="#8a8a8a" stroke-width="0.45"/>
<line x1="247.75" y1="167.57" x2="248.85" y2="167.57" stroke="#8a8a8a" stroke-width="0.45"/>
<line x1="246.95" y1="164.00" x2="249.55" y2="164.00" stroke="#8a8a8a" stroke-width="0.5"/>
<line x1="247.75" y1="160.42" x2="248.85" y2="160.42" stroke="#8a8a8a" stroke-width="0.45"/>
<line x1="247.75" y1="156.85" x2="248.85" y2="156.85" stroke="#8a8a8a" stroke-width="0.45"/>
<line x1="247.75" y1="153.27" x2="248.85" y2="153.27" stroke="#8a8a8a" stroke-width="0.45"/>
<line x1="246.95" y1="149.70" x2="249.55" y2="149.70" stroke="#8a8a8a" stroke-width="0.5"/>
<line x1="247.75" y1="146.12" x2="248.85" y2="146.12" stroke="#8a8a8a" stroke-width="0.45"/>
<line x1="247.75" y1="142.55" x2="248.85" y2="142.55" stroke="#8a8a8a" stroke-width="0.45"/>
<line x1="247.75" y1="138.97" x2="248.85" y2="138.97" stroke="#8a8a8a" stroke-width="0.45"/>
<line x1="246.95" y1="135.40" x2="249.55" y2="135.40" stroke="#8a8a8a" stroke-width="0.5"/>
<line x1="254.62" y1="221.20" x2="254.62" y2="220.10" stroke="#8a8a8a" stroke-width="0.45"/>
<line x1="263.75" y1="221.20" x2="263.75" y2="220.10" stroke="#8a8a8a" stroke-width="0.45"/>
<line x1="272.88" y1="221.20" x2="272.88" y2="220.10" stroke="#8a8a8a" stroke-width="0.45"/>
<line x1="282.00" y1="222.00" x2="282.00" y2="219.40" stroke="#8a8a8a" stroke-width="0.5"/>
<line x1="291.12" y1="221.20" x2="291.12" y2="220.10" stroke="#8a8a8a" stroke-width="0.45"/>
<line x1="300.25" y1="221.20" x2="300.25" y2="220.10" stroke="#8a8a8a" stroke-width="0.45"/>
<line x1="309.38" y1="221.20" x2="309.38" y2="220.10" stroke="#8a8a8a" stroke-width="0.45"/>
<line x1="318.50" y1="222.00" x2="318.50" y2="219.40" stroke="#8a8a8a" stroke-width="0.5"/>
<line x1="327.62" y1="221.20" x2="327.62" y2="220.10" stroke="#8a8a8a" stroke-width="0.45"/>
<line x1="336.75" y1="221.20" x2="336.75" y2="220.10" stroke="#8a8a8a" stroke-width="0.45"/>
<line x1="345.88" y1="221.20" x2="345.88" y2="220.10" stroke="#8a8a8a" stroke-width="0.45"/>
<line x1="355.00" y1="222.00" x2="355.00" y2="219.40" stroke="#8a8a8a" stroke-width="0.5"/>
<line x1="364.12" y1="221.20" x2="364.12" y2="220.10" stroke="#8a8a8a" stroke-width="0.45"/>
<line x1="373.25" y1="221.20" x2="373.25" y2="220.10" stroke="#8a8a8a" stroke-width="0.45"/>
<text x="246.00" y="223.20" font-size="6.2" text-anchor="end" font-weight="normal" font-style="normal" fill="#000" stroke="#000" stroke-width="0.22">0</text>
<text x="246.00" y="208.90" font-size="6.2" text-anchor="end" font-weight="normal" font-style="normal" fill="#000" stroke="#000" stroke-width="0.22">2</text>
<text x="246.00" y="194.60" font-size="6.2" text-anchor="end" font-weight="normal" font-style="normal" fill="#000" stroke="#000" stroke-width="0.22">4</text>
<text x="246.00" y="180.30" font-size="6.2" text-anchor="end" font-weight="normal" font-style="normal" fill="#000" stroke="#000" stroke-width="0.22">6</text>
<text x="246.00" y="166.00" font-size="6.2" text-anchor="end" font-weight="normal" font-style="normal" fill="#000" stroke="#000" stroke-width="0.22">8</text>
<text x="246.00" y="151.70" font-size="6.2" text-anchor="end" font-weight="normal" font-style="normal" fill="#000" stroke="#000" stroke-width="0.22">10</text>
<text x="246.00" y="137.40" font-size="6.2" text-anchor="end" font-weight="normal" font-style="normal" fill="#000" stroke="#000" stroke-width="0.22">12</text>
<text x="282.00" y="226.70" font-size="5.9" text-anchor="middle" font-weight="normal" font-style="normal" fill="#000" stroke="#000" stroke-width="0.22">0.2</text>
<text x="318.50" y="226.70" font-size="5.9" text-anchor="middle" font-weight="normal" font-style="normal" fill="#000" stroke="#000" stroke-width="0.22">0.4</text>
<text x="355.00" y="226.70" font-size="5.9" text-anchor="middle" font-weight="normal" font-style="normal" fill="#000" stroke="#000" stroke-width="0.22">0.6</text>
<text transform="translate(260.80,145.50) scale(1,0.85)" font-size="6.3" text-anchor="middle" font-weight="bold" font-style="normal" fill="#000" stroke="#000" stroke-width="0.15">I</text>
<text transform="translate(283.00,145.50) scale(1,0.85)" font-size="6.3" text-anchor="middle" font-weight="bold" font-style="normal" fill="#000" stroke="#000" stroke-width="0.15">II</text>
<text transform="translate(306.40,145.50) scale(1,0.85)" font-size="6.3" text-anchor="middle" font-weight="bold" font-style="normal" fill="#000" stroke="#000" stroke-width="0.15">III</text>
<text transform="translate(350.50,145.50) scale(1,0.85)" font-size="6.3" text-anchor="middle" font-weight="bold" font-style="normal" fill="#000" stroke="#000" stroke-width="0.15">I</text>
<polyline points="247.00,220.30 250.50,220.30 254.30,220.30 259.90,219.90 263.40,219.90 267.40,219.50 272.80,217.70 276.30,215.70 282.10,204.80 285.40,193.40 291.30,179.90 294.80,172.20 296.80,167.40 300.70,161.80 302.40,159.80 304.00,158.50 307.70,155.90 309.40,154.80 314.90,159.80 318.60,165.70 322.00,172.20 324.20,178.10 325.75,186.00 326.40,193.90 327.80,204.20 329.80,210.20 331.70,220.30 336.70,221.00 346.20,221.00 355.20,221.00 373.40,221.00" fill="none" stroke="#111" stroke-width="0.55"/>
<circle cx="247.00" cy="220.30" r="1.8" fill="#000" stroke="none" stroke-width="0"/>
<circle cx="250.50" cy="220.30" r="1.8" fill="#000" stroke="none" stroke-width="0"/>
<circle cx="254.30" cy="220.30" r="1.8" fill="#000" stroke="none" stroke-width="0"/>
<circle cx="259.90" cy="219.90" r="1.8" fill="#000" stroke="none" stroke-width="0"/>
<circle cx="263.40" cy="219.90" r="1.8" fill="#000" stroke="none" stroke-width="0"/>
<circle cx="267.40" cy="219.50" r="1.8" fill="#000" stroke="none" stroke-width="0"/>
<circle cx="272.80" cy="217.70" r="1.8" fill="#000" stroke="none" stroke-width="0"/>
<circle cx="276.30" cy="215.70" r="1.8" fill="#000" stroke="none" stroke-width="0"/>
<circle cx="282.10" cy="204.80" r="1.8" fill="#000" stroke="none" stroke-width="0"/>
<circle cx="285.40" cy="193.40" r="1.8" fill="#000" stroke="none" stroke-width="0"/>
<circle cx="291.30" cy="179.90" r="1.8" fill="#000" stroke="none" stroke-width="0"/>
<circle cx="294.80" cy="172.20" r="1.8" fill="#000" stroke="none" stroke-width="0"/>
<circle cx="296.80" cy="167.40" r="1.8" fill="#000" stroke="none" stroke-width="0"/>
<circle cx="300.70" cy="161.80" r="1.8" fill="#000" stroke="none" stroke-width="0"/>
<circle cx="302.40" cy="159.80" r="1.8" fill="#000" stroke="none" stroke-width="0"/>
<circle cx="304.00" cy="158.50" r="1.8" fill="#000" stroke="none" stroke-width="0"/>
<circle cx="307.70" cy="155.90" r="1.8" fill="#000" stroke="none" stroke-width="0"/>
<circle cx="309.40" cy="154.80" r="1.8" fill="#000" stroke="none" stroke-width="0"/>
<circle cx="314.90" cy="159.80" r="1.8" fill="#000" stroke="none" stroke-width="0"/>
<circle cx="318.60" cy="165.70" r="1.8" fill="#000" stroke="none" stroke-width="0"/>
<circle cx="322.00" cy="172.20" r="1.8" fill="#000" stroke="none" stroke-width="0"/>
<circle cx="324.20" cy="178.10" r="1.8" fill="#000" stroke="none" stroke-width="0"/>
<circle cx="325.75" cy="186.00" r="1.8" fill="#000" stroke="none" stroke-width="0"/>
<circle cx="326.40" cy="193.90" r="1.8" fill="#000" stroke="none" stroke-width="0"/>
<circle cx="327.80" cy="204.20" r="1.8" fill="#000" stroke="none" stroke-width="0"/>
<circle cx="329.80" cy="210.20" r="1.8" fill="#000" stroke="none" stroke-width="0"/>
<circle cx="331.70" cy="220.30" r="1.8" fill="#000" stroke="none" stroke-width="0"/>
<circle cx="336.70" cy="221.00" r="1.8" fill="#000" stroke="none" stroke-width="0"/>
<circle cx="346.20" cy="221.00" r="1.8" fill="#000" stroke="none" stroke-width="0"/>
<circle cx="355.20" cy="221.00" r="1.8" fill="#000" stroke="none" stroke-width="0"/>
<circle cx="373.40" cy="221.00" r="1.8" fill="#000" stroke="none" stroke-width="0"/>
<line x1="288.40" y1="193.40" x2="326.20" y2="193.40" stroke="#0a5a5a" stroke-width="0.75"/>
<path d="M286.40,193.40 l5.0,-1.1 l0,2.2 Z" fill="#000"/>
<path d="M328.20,193.40 l-5.0,-1.1 l0,2.2 Z" fill="#000"/>
<text transform="translate(308.00,209.00) scale(1,1.05)" font-size="6.4" text-anchor="middle" font-weight="normal" font-style="italic" fill="#000" >frequency</text>
<text transform="translate(308.40,214.90) scale(1,1.05)" font-size="6.4" text-anchor="middle" font-weight="normal" font-style="italic" fill="#000" >lock-in</text>
<text x="308.75" y="232.30" font-size="6.9" text-anchor="middle" font-weight="bold" font-style="italic" fill="#000" stroke="#000" stroke-width="0.2">k</text>
<text x="312.60" y="234.50" font-size="4.6" text-anchor="middle" font-weight="bold" font-style="italic" fill="#1a2a8a" >u</text>
<text transform="translate(235.2,178.4) rotate(-90)" font-size="7.6" font-weight="bold" font-style="italic" text-anchor="middle">A<tspan font-size="5.0" dy="1.4" fill="#335">t</tspan><tspan dy="-1.4">(°)</tspan></text>
<text x="142.30" y="111.40" font-size="6.68" text-anchor="middle" font-weight="normal" font-style="normal" fill="#000" >(a)Imaginary part of the eigenvalue loci based on linear</text>
<text x="142.30" y="118.20" font-size="6.68" text-anchor="middle" font-weight="normal" font-style="normal" fill="#000" >theory</text>
<text x="302.70" y="111.40" font-size="6.68" text-anchor="middle" font-weight="normal" font-style="normal" fill="#000" >(b)Real part of the eigenvalue loci based on linear theory</text>
<text x="142.30" y="244.30" font-size="6.68" text-anchor="middle" font-weight="normal" font-style="normal" fill="#000" >(c)Coupling frequency of FSI system based on coupled</text>
<text x="142.30" y="251.20" font-size="6.68" text-anchor="middle" font-weight="normal" font-style="normal" fill="#000" >CFD/CSD simulation</text>
<text x="302.30" y="244.30" font-size="6.68" text-anchor="middle" font-weight="normal" font-style="normal" fill="#000" >(d)Vibration amplitude of FSI system based on coupled</text>
<text x="302.30" y="251.20" font-size="6.68" text-anchor="middle" font-weight="normal" font-style="normal" fill="#000" >CFD/CSD simulation</text>
</svg></body></html>
